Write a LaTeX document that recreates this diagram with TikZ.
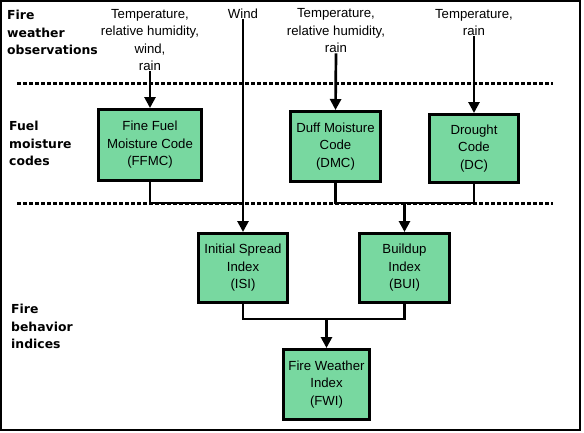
\documentclass[tikz,border=0pt]{standalone}
\usepackage{fontspec}
\setmainfont{Liberation Sans}
\newfontfamily\lblfont{DejaVu Sans}
\usetikzlibrary{arrows.meta}
\definecolor{boxgreen}{RGB}{120,216,160}
\begin{document}
\begin{tikzpicture}[x=1pt,y=-1pt,
  txt/.style={font=\fontsize{13.2}{17.5}\selectfont, align=center, inner sep=0pt},
  lbl/.style={font=\lblfont\bfseries\fontsize{12.4}{17.5}\selectfont, align=left, inner sep=0pt, anchor=north west},
  codebox/.style={draw=black, line width=3pt, fill=boxgreen, inner sep=0pt, align=center,
    font=\fontsize{13.2}{17.5}\selectfont},
  conn/.style={line width=2.7pt},
  arr/.style={line width=2.7pt, -{Triangle[length=11pt,width=11pt]}},
  sep/.style={line width=3pt, dash pattern=on 4pt off 2pt}
]
\useasboundingbox (0,0) rectangle (584,432);
\fill[white] (0,0) rectangle (584,432);
\draw[line width=2pt] (1,1) rectangle (580,430);

% dashed separators
\draw[sep] (17,83) -- (553,83);
\draw[sep] (17,203) -- (553,203);

% left labels
\node[lbl] (lobs) at (7,10) {Fire\\weather\\observations};
\node[lbl] (lfuel) at (9,121) {Fuel\\moisture\\codes};
\node[lbl] (lfire) at (11,304) {Fire\\behavior\\indices};

% observation labels
\node[txt] (o1) at (150,40) {Temperature,\\relative humidity,\\wind,\\rain};
\node[txt] (wind) at (243,14) {Wind};
\node[txt] (o2) at (336,31) {Temperature,\\relative humidity,\\rain};
\node[txt] (o3) at (474,22.5) {Temperature,\\rain};

% boxes
\node[codebox, minimum width=103pt, minimum height=71pt] (ffmc) at (150,145) {Fine Fuel\\Moisture Code\\(FFMC)};
\node[codebox, minimum width=90pt, minimum height=70pt] (dmc) at (335.5,146.5) {Duff Moisture\\Code\\(DMC)};
\node[codebox, minimum width=89pt, minimum height=68pt] (dc) at (474,148.5) {Drought\\Code\\(DC)};
\node[codebox, minimum width=89pt, minimum height=69pt] (isi) at (243,268) {Initial Spread\\Index\\(ISI)};
\node[codebox, minimum width=90pt, minimum height=69pt] (bui) at (404.5,268) {Buildup\\Index\\(BUI)};
\node[codebox, minimum width=86pt, minimum height=70pt] (fwi) at (326.5,384.5) {Fire Weather\\Index\\(FWI)};

% junction coordinates
\coordinate (j1) at (243,203);
\coordinate (j2) at (404.5,203);
\coordinate (j3) at (326.5,319);

% connectors
\draw[arr] (o1.south) -- (ffmc.north);
\draw[arr] (o2.south) -- (dmc.north);
\draw[arr] (o3.south) -- (dc.north);
\draw[arr] (wind.south) -- (isi.north);
\draw[conn] (ffmc.south) |- (j1);
\draw[conn] (dmc.south) |- (j2) -| (dc.south);
\draw[arr] (j2) -- (bui.north);
\draw[conn] (isi.south) |- (j3) -| (bui.south);
\draw[arr] (j3) -- (fwi.north);
\end{tikzpicture}
\end{document}
